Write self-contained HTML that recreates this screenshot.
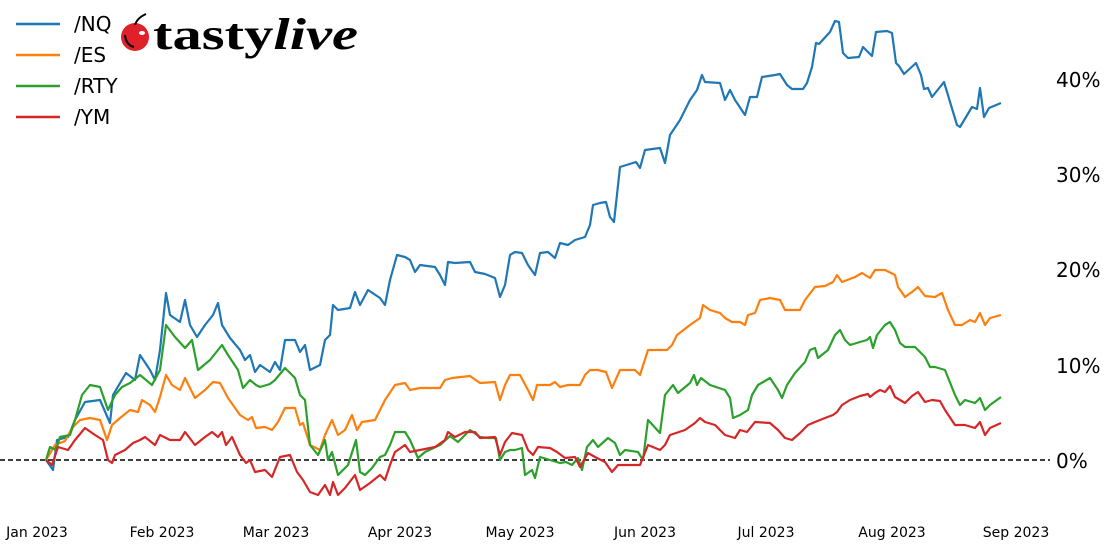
<!DOCTYPE html>
<html><head><meta charset="utf-8"><style>
body{margin:0;background:#fff;}
svg{display:block;font-family:"DejaVu Sans","Liberation Sans",sans-serif;}
</style></head><body>
<svg width="1112" height="547" viewBox="0 0 1112 547">
<line x1="0" y1="460" x2="1050" y2="460" stroke="#000" stroke-width="1.5" stroke-dasharray="5,3"/>
<g font-size="20" fill="#000">
<text x="1056" y="87">40%</text>
<text x="1056" y="182">30%</text>
<text x="1056" y="277">20%</text>
<text x="1056" y="373">10%</text>
<text x="1056" y="468">0%</text>
</g>
<g font-size="14" fill="#000" text-anchor="middle">
<text x="37" y="537">Jan 2023</text>
<text x="162" y="537">Feb 2023</text>
<text x="276" y="537">Mar 2023</text>
<text x="400" y="537">Apr 2023</text>
<text x="520" y="537">May 2023</text>
<text x="645" y="537">Jun 2023</text>
<text x="766" y="537">Jul 2023</text>
<text x="892" y="537">Aug 2023</text>
<text x="1016" y="537">Sep 2023</text>
</g>
<g fill="none" stroke-width="2.2" stroke-linejoin="round">
<polyline stroke="#1f77b4" points="46,460 53,470 57,440 68,437 75,420 85,402 100,400 110,423 113,395 126,373 135,380 140,355 150,370 155,380 160,350 166,293 170,315 180,322 185,300 190,325 197,337 205,325 213,315 218,303 222,325 230,338 240,350 245,360 250,355 255,372 260,365 270,372 275,362 280,370 285,340 295,340 300,352 305,345 310,370 320,365 325,340 330,335 333,305 338,310 350,308 355,292 360,305 368,290 380,298 385,305 390,280 397,255 405,257 410,260 415,272 420,265 435,267 440,275 445,285 448,262 455,263 470,262 475,272 485,274 495,278 500,297 505,285 510,255 515,252 522,253 528,265 535,275 540,253 548,252 555,258 560,243 568,245 575,240 585,237 590,225 593,205 600,203 606,202 610,217 614,222 620,167 636,162 640,168 645,150 660,148 665,163 670,135 680,120 690,100 697,90 702,75 705,82 720,83 725,100 730,90 735,100 745,115 750,97 757,97 762,77 775,75 780,74 787,85 792,89 803,89 807,83 812,67 816,43 819,44 830,32 835,21 839,22 843,53 848,58 859,57 863,47 872,56 876,32 887,31 892,33 896,63 899,66 904,74 916,63 921,75 924,89 928,88 932,97 944,82 957,125 960,127 972,107 977,109 980,88 984,117 989,108 1001,103"/>
<polyline stroke="#ff7f0e" points="46,460 55,445 65,441 72,428 80,420 90,418 100,420 107,440 112,425 120,418 130,410 138,412 142,400 150,405 155,412 160,397 166,375 172,385 180,390 185,378 195,398 205,390 213,382 220,383 228,398 240,415 248,420 252,417 256,428 265,427 272,430 278,422 285,408 295,408 300,425 303,423 310,445 320,450 325,435 332,420 338,435 345,430 352,415 357,430 362,422 375,420 385,400 395,385 405,383 410,390 420,388 440,388 445,380 452,378 470,376 480,383 495,382 500,400 505,385 510,375 520,375 528,390 533,400 537,385 550,385 555,382 560,387 568,385 580,385 585,375 590,370 598,370 606,372 612,388 620,370 635,370 640,375 648,350 660,350 667,350 672,345 677,335 690,325 700,318 703,305 710,310 720,313 725,318 732,322 740,322 745,325 748,315 755,313 760,300 770,298 780,300 785,310 800,310 805,300 815,287 825,286 833,282 837,275 842,282 855,277 862,273 870,278 875,270 885,270 895,275 898,287 905,297 912,292 918,287 925,296 935,297 942,293 948,310 955,325 962,325 970,320 975,322 980,313 985,325 990,318 1001,315"/>
<polyline stroke="#2ca02c" points="46,460 50,447 56,450 60,437 70,435 75,420 82,395 90,385 100,387 108,410 115,395 122,387 130,383 140,375 152,385 160,370 166,325 175,337 185,348 192,340 198,370 210,360 218,350 222,345 228,355 238,370 243,388 250,380 256,385 260,387 270,384 275,380 285,368 295,378 300,395 305,400 310,445 318,455 325,440 328,460 332,452 338,475 348,465 356,440 360,472 365,475 372,468 380,457 385,455 390,445 395,432 405,432 410,440 418,458 425,452 440,445 450,436 458,442 462,438 470,430 480,437 488,438 496,438 500,460 505,452 510,450 515,450 522,448 525,475 532,470 535,478 540,457 550,460 560,463 566,462 572,465 578,458 582,470 587,447 593,440 598,447 608,438 615,443 620,455 625,450 638,452 643,460 648,420 660,433 665,395 673,385 678,393 690,383 694,375 697,385 701,378 710,385 725,390 730,398 733,418 740,415 748,410 752,395 758,385 770,378 778,390 782,398 787,385 795,373 805,362 810,350 815,348 818,358 828,350 835,335 840,330 845,340 850,345 860,342 867,340 870,337 873,348 877,335 885,325 890,322 895,330 900,343 905,347 915,347 925,357 930,367 935,367 945,370 955,395 960,405 965,400 975,403 980,398 985,410 990,405 1001,397"/>
<polyline stroke="#d62728" points="46,460 52,465 58,447 68,450 75,440 85,428 95,435 103,440 108,460 112,463 115,455 125,450 133,443 140,440 145,437 155,445 160,435 170,440 180,440 185,432 195,445 205,437 212,432 218,437 222,432 226,445 232,437 240,455 246,463 250,460 255,472 265,470 272,477 280,457 290,455 297,472 303,480 310,492 318,495 325,485 330,495 333,482 338,495 345,488 355,475 360,490 370,483 380,475 385,480 390,465 395,452 405,445 410,452 420,450 435,447 445,440 448,432 455,437 465,432 475,432 480,438 495,437 500,455 505,442 512,433 522,435 528,450 533,455 538,447 550,448 557,452 565,458 575,457 580,467 588,453 595,457 605,462 612,472 618,465 630,465 640,465 648,445 660,450 665,445 670,435 685,430 695,423 700,418 705,422 715,425 725,435 735,438 740,430 747,432 755,422 770,423 778,430 785,438 792,440 800,433 808,425 815,422 825,418 833,415 837,412 842,405 850,400 860,396 868,394 870,397 875,393 880,390 885,392 890,386 895,397 900,400 905,403 912,396 918,392 925,402 932,400 940,401 945,410 955,425 965,425 975,428 980,422 985,435 990,428 1001,423"/>
</g>
<g stroke-width="2.5">
<line x1="16" y1="24" x2="60" y2="24" stroke="#1f77b4"/>
<line x1="16" y1="55" x2="60" y2="55" stroke="#ff7f0e"/>
<line x1="16" y1="86" x2="60" y2="86" stroke="#2ca02c"/>
<line x1="16" y1="117" x2="60" y2="117" stroke="#d62728"/>
</g>
<g font-size="20" fill="#000">
<text x="74" y="31">/NQ</text>
<text x="74" y="62">/ES</text>
<text x="74" y="93">/RTY</text>
<text x="74" y="124">/YM</text>
</g>
<circle cx="135" cy="37" r="14" fill="#e0202a"/>
<path d="M125,35 Q126,45 134,47" stroke="#000" stroke-width="2" fill="none"/>
<ellipse cx="142" cy="33" rx="3" ry="2" fill="#fff"/>
<path d="M135,25 Q137,18 146,14" stroke="#000" stroke-width="2" fill="none"/>
<text x="153" y="49" font-family="Liberation Serif,serif" font-weight="bold" font-size="44" fill="#000" textLength="205" lengthAdjust="spacingAndGlyphs">tasty<tspan font-style="italic">live</tspan></text>
</svg>
</body></html>
